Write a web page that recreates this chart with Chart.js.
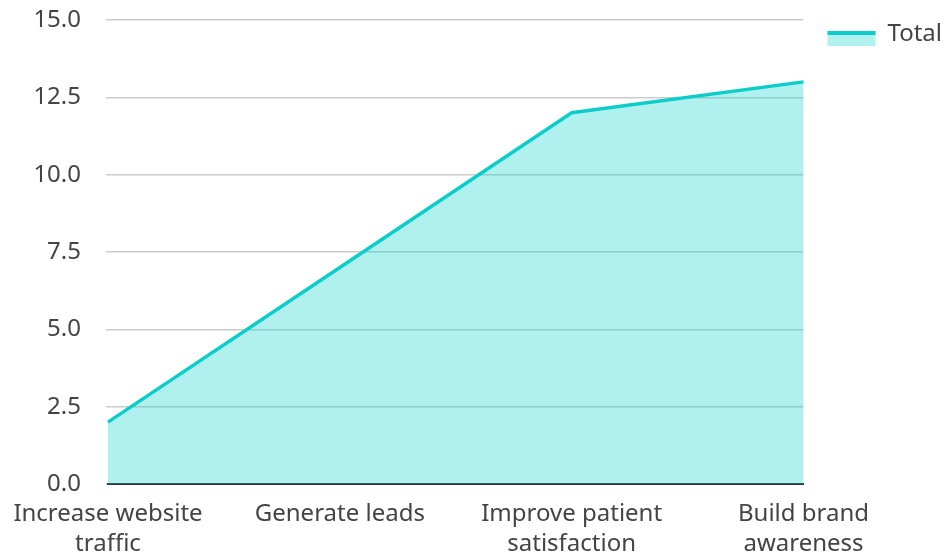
<!DOCTYPE html>
<html>
<head>
<meta charset="utf-8">
<script src="https://cdn.jsdelivr.net/npm/chart.js@4"></script>
<style>
  html, body { margin: 0; padding: 0; background: #fff; }
  #wrap { width: 944px; height: 555px; }
</style>
</head>
<body>
<div id="wrap"><canvas id="chart"></canvas></div>
<script>
const categories = [
  ['Increase website', 'traffic'],
  'Generate leads',
  ['Improve patient', 'satisfaction'],
  ['Build brand', 'awareness'],
];
const totals = [2, 7, 12, 13];
const yTicks = [0, 2.5, 5, 7.5, 10, 12.5, 15];

const LINE = '#0dcdca';
const FILL = 'rgba(0, 206, 201, 0.31)';
const TEXT = '#444444';

// legend swatch: light fill with a thick line along its top, sitting a bit below the text centre
const legendSwatch = {
  id: 'legendSwatch',
  afterDraw(chart) {
    const lg = chart.legend;
    if (!lg || !lg.legendHitBoxes) return;
    const ctx = chart.ctx;
    const w = lg.options.labels.boxWidth;
    ctx.save();
    lg.legendHitBoxes.forEach(b => {
      const mid = b.top + b.height / 2;
      ctx.fillStyle = FILL;
      ctx.fillRect(b.left, mid - 3, w, 15);
      ctx.strokeStyle = LINE;
      ctx.lineWidth = 4;
      ctx.beginPath();
      ctx.moveTo(b.left, mid - 1);
      ctx.lineTo(b.left + w, mid - 1);
      ctx.stroke();
    });
    ctx.restore();
  }
};

Chart.defaults.font.family = '"Noto Sans", "Open Sans", sans-serif';
Chart.defaults.color = TEXT;

new Chart(document.getElementById('chart').getContext('2d'), {
  type: 'line',
  data: {
    labels: categories,
    datasets: [{
      label: 'Total',
      data: totals,
      borderColor: LINE,
      backgroundColor: FILL,
      borderWidth: 3.5,
      fill: 'origin',
      tension: 0,
      pointRadius: 0,
      pointHoverRadius: 0,
    }]
  },
  options: {
    responsive: true, maintainAspectRatio: false,
    animation: false,
    layout: { padding: { top: -2, right: -8, left: 0, bottom: 0 } },
    plugins: {
      tooltip: { enabled: false },
      legend: {
        position: 'right',
        align: 'start',
        labels: {
          boxWidth: 48,
          boxHeight: 14,
          padding: 24,
          font: { size: 24 },
          color: TEXT,
          generateLabels: (chart) => chart.data.datasets.map((ds, i) => ({
            text: ds.label,
            fillStyle: 'rgba(0,0,0,0)',
            strokeStyle: 'rgba(0,0,0,0)',
            lineWidth: 0,
            datasetIndex: i,
            fontColor: TEXT,
          })),
        }
      }
    },
    scales: {
      x: {
        offset: false,
        grid: { display: false, drawTicks: false },
        border: { display: true, color: '#333333', width: 2 },
        ticks: { padding: 15, maxRotation: 0, autoSkip: false, font: { size: 24, lineHeight: 1.25 } },
        afterFit: (s) => { s.height = 71; s.paddingLeft = 0; },
      },
      y: {
        min: 0, max: 15,
        afterBuildTicks: (axis) => { axis.ticks = yTicks.map(v => ({ value: v })); },
        grid: { color: '#cccccc', lineWidth: 1.5, tickLength: 2 },
        border: { display: false },
        ticks: {
          padding: 25,
          font: { size: 24 },
          callback: (v) => Number(v).toFixed(1),
        },
        afterFit: (s) => { s.paddingTop = 20; s.width = 108; },
      }
    }
  },
  plugins: [legendSwatch]
});
</script>
</body>
</html>
